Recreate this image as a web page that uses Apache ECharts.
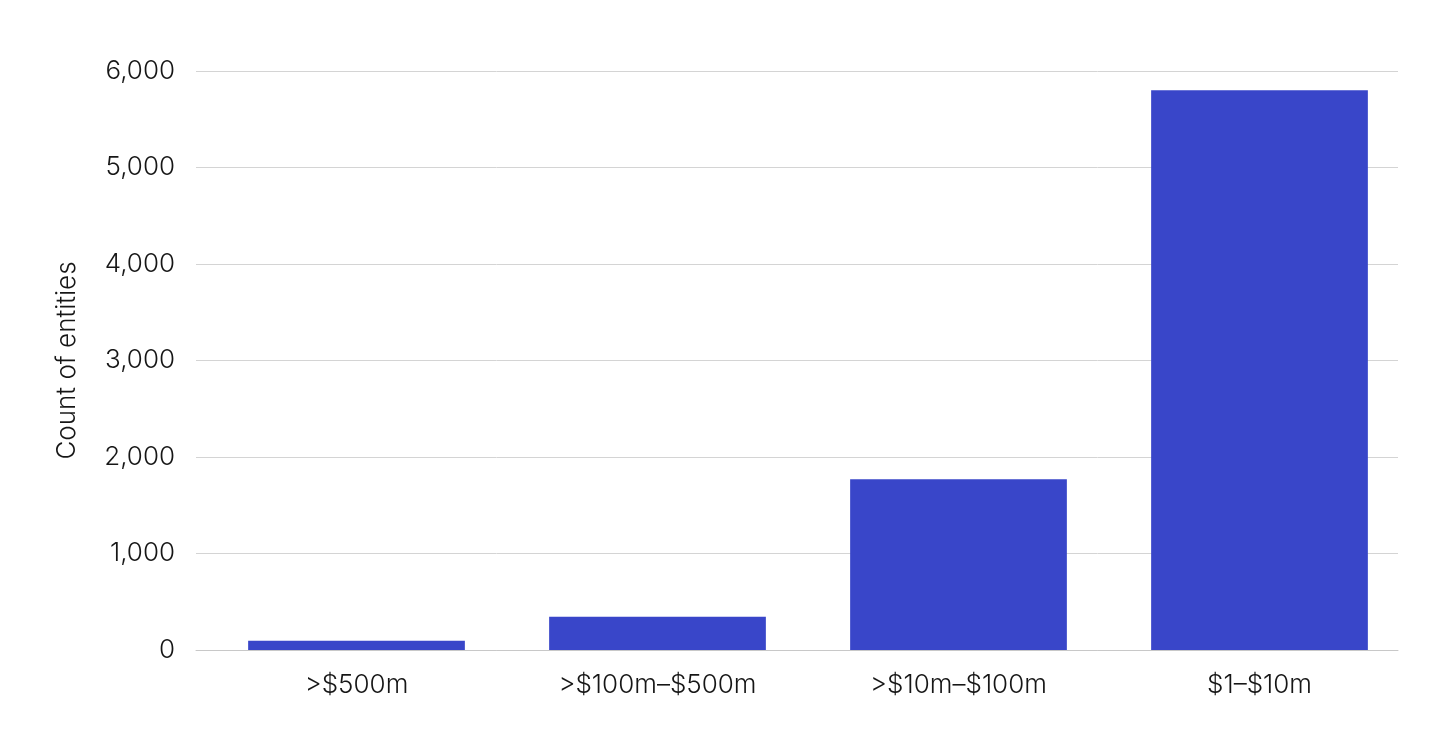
<!DOCTYPE html>
<html>
<head>
<meta charset="utf-8">
<script src="https://cdn.jsdelivr.net/npm/echarts@6/dist/echarts.min.js"></script>
<style>
html,body{margin:0;padding:0;background:#fff;}
#chart{width:1436px;height:736px;}
</style>
</head>
<body>
<div id="chart"></div>
<script>
const categories = ['>$500m', '>$100m–$500m', '>$10m–$100m', '$1–$10m'];
const counts = [95, 345, 1770, 5800];
const yTicks = [0, 1000, 2000, 3000, 4000, 5000, 6000];

const FONT = 'Inter';
const TXT = '#161616';
const chart = echarts.init(document.getElementById('chart'));
chart.setOption({
  animation: false,
  textStyle: { fontFamily: FONT },
  grid: [
    { left: 196, right: 38, top: 71, bottom: 86, containLabel: false },
    { left: 206, right: 26, top: 71, bottom: 86, containLabel: false }
  ],
  xAxis: [
    {
      gridIndex: 0,
      type: 'category',
      data: categories,
      axisLine: { show: true, lineStyle: { color: '#c8c8c8', width: 1 } },
      axisTick: { show: false },
      axisLabel: { show: false }
    },
    {
      gridIndex: 1,
      type: 'category',
      data: categories,
      axisLine: { show: false },
      axisTick: { show: false },
      axisLabel: { color: TXT, fontSize: 26, fontWeight: 300, margin: 22, fontFamily: FONT }
    }
  ],
  yAxis: [
    {
      gridIndex: 0,
      type: 'value',
      min: yTicks[0],
      max: yTicks[yTicks.length - 1],
      interval: 1000,
      name: 'Count of entities',
      nameLocation: 'middle',
      nameRotate: 90,
      nameGap: 116,
      nameTextStyle: { color: TXT, fontSize: 26, fontWeight: 300, fontFamily: FONT },
      axisLine: { show: false },
      axisTick: { show: false },
      splitLine: { lineStyle: { color: '#d4d4d4', width: 1 } },
      axisLabel: {
        color: TXT, fontSize: 26, fontWeight: 300, margin: 21, fontFamily: FONT,
        formatter: v => v.toLocaleString('en-US')
      }
    },
    {
      gridIndex: 1,
      type: 'value',
      min: yTicks[0],
      max: yTicks[yTicks.length - 1],
      interval: 1000,
      show: false,
      splitLine: { show: false }
    }
  ],
  series: [{
    type: 'bar',
    xAxisIndex: 1,
    yAxisIndex: 1,
    data: counts,
    barCategoryGap: '28%',
    itemStyle: { color: '#3946C9' }
  }]
});
</script>
</body>
</html>
